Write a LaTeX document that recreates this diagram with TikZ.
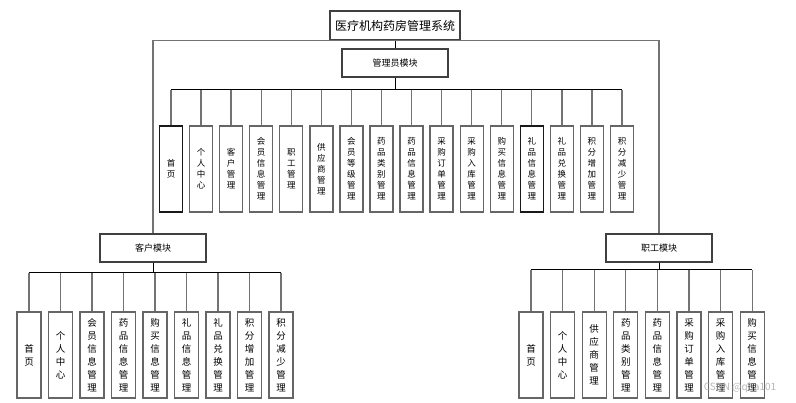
\documentclass[tikz,border=0pt]{standalone}
\usepackage{fontspec}
\setmainfont{Noto Sans CJK SC}
\begin{document}
\begin{tikzpicture}[x=1pt,y=-1pt,
  box/.style={draw=black!75,line width=1.3pt,fill=white,inner sep=0pt},
  topbox/.style={box,minimum width=130,minimum height=29,font=\fontsize{12}{14}\selectfont},
  modbox/.style={box,minimum width=106,minimum height=28,font=\fontsize{9}{11}\selectfont},
  leafa/.style={box,draw=black!60,minimum width=23,minimum height=86,align=center,font=\fontsize{8.5}{11}\selectfont},
  leafb/.style={box,draw=black!60,minimum width=24,minimum height=86,align=center,font=\fontsize{9.5}{13}\selectfont},
  bold/.style={draw=black!90},
  conn/.style={draw=black!55,line width=1.3pt},
  connk/.style={draw=black,line width=1pt}]
\useasboundingbox (0,0) rectangle (796,403);

% top
\node[topbox] (t) at (395,25.5) {医疗机构药房管理系统};
\node[modbox] (adm) at (395,63) {管理员模块};
\node[modbox] (cus) at (153,248) {客户模块};
\node[modbox] (stf) at (659,248) {职工模块};

\draw[connk] (t.south) -- (adm.north);
\draw[conn] (cus.north) |- (t.south) -| (stf.north);

% admin leaves
\coordinate (ab) at (395,90);
\foreach \txt [count=\i from 0] in {
  {首\\页},{个\\人\\中\\心},{客\\户\\管\\理},{会\\员\\信\\息\\管\\理},
  {职\\工\\管\\理},{供\\应\\商\\管\\理},{会\\员\\等\\级\\管\\理},{药\\品\\类\\别\\管\\理},
  {药\\品\\信\\息\\管\\理},{采\\购\\订\\单\\管\\理},{采\\购\\入\\库\\管\\理},{购\\买\\信\\息\\管\\理},
  {礼\\品\\信\\息\\管\\理},{礼\\品\\兑\\换\\管\\理},{积\\分\\增\\加\\管\\理},{积\\分\\减\\少\\管\\理}}
{
  \pgfmathsetmacro{\xx}{171+30.07*\i}
  \node[leafa] (a\i) at (\xx,169) {\txt};
}
\node[leafa,bold] at (a0) {首\\页};
\node[leafa,bold] at (a12) {礼\\品\\信\\息\\管\\理};
\draw[connk] (adm.south) -- (ab);
\draw[connk] (a0.north |- ab) -- (a15.north |- ab);
\foreach \i in {0,...,15} { \draw[conn] (a\i.north) -- (a\i.north |- ab); }

% customer leaves
\coordinate (cb) at (153,273);
\foreach \txt [count=\i from 0] in {
  {首\\页},{个\\人\\中\\心},{会\\员\\信\\息\\管\\理},{药\\品\\信\\息\\管\\理},
  {购\\买\\信\\息\\管\\理},{礼\\品\\信\\息\\管\\理},{礼\\品\\兑\\换\\管\\理},
  {积\\分\\增\\加\\管\\理},{积\\分\\减\\少\\管\\理}}
{
  \pgfmathsetmacro{\xx}{29+31.5*\i}
  \node[leafb] (c\i) at (\xx,355) {\txt};
}
\draw[connk] (cus.south) -- (cb);
\draw[connk] (c0.north |- cb) -- (c8.north |- cb);
\foreach \i in {0,...,8} { \draw[conn] (c\i.north) -- (c\i.north |- cb); }

% staff leaves
\coordinate (sb) at (659,270);
\foreach \txt [count=\i from 0] in {
  {首\\页},{个\\人\\中\\心},{供\\应\\商\\管\\理},{药\\品\\类\\别\\管\\理},
  {药\\品\\信\\息\\管\\理},{采\\购\\订\\单\\管\\理},{采\\购\\入\\库\\管\\理},
  {购\\买\\信\\息\\管\\理}}
{
  \pgfmathsetmacro{\xx}{531+31.6*\i}
  \node[leafb] (s\i) at (\xx,355) {\txt};
}
\draw[connk] (stf.south) -- (sb);
\draw[connk] (s0.north |- sb) -- (s7.north |- sb);
\foreach \i in {0,...,7} { \draw[conn] (s\i.north) -- (s\i.north |- sb); }

% watermark
\node[text=black!35,font=\fontsize{10}{12}\selectfont,fill opacity=0.8,text opacity=0.8] (wm) at (740,388) {CSDN @qha101};
\end{tikzpicture}
\end{document}
